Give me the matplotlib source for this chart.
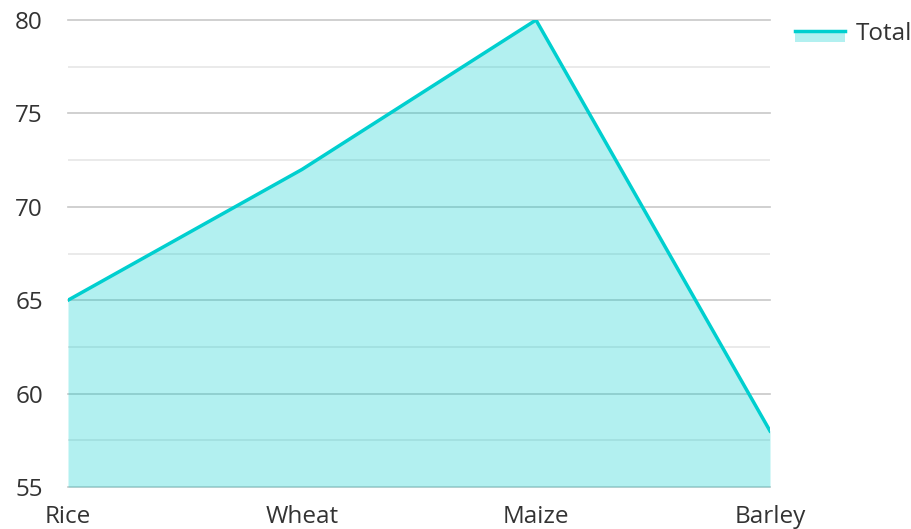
import matplotlib
matplotlib.use("Agg")
import matplotlib.pyplot as plt
from matplotlib.patches import Patch, Rectangle
from matplotlib.lines import Line2D
from matplotlib.legend_handler import HandlerBase
from matplotlib.ticker import MultipleLocator

plt.rcParams["font.family"] = ["Open Sans", "DejaVu Sans"]

crops = ["Rice", "Wheat", "Maize", "Barley"]
total = [65, 72, 80, 58]

line_color = "#00CFCF"


class AreaHandler(HandlerBase):
    # line on top of a short filled strip, like the reference legend
    def create_artists(self, legend, orig_handle, xdescent, ydescent,
                       width, height, fontsize, trans):
        mid = -ydescent + height / 2
        rect = Rectangle((-xdescent, mid - 0.62 * height), width, 0.62 * height,
                         facecolor=line_color, alpha=0.3, edgecolor="none",
                         transform=trans)
        line = Line2D([-xdescent, -xdescent + width], [mid, mid],
                      color=line_color, linewidth=2.5, transform=trans)
        return [rect, line]


fig = plt.figure(figsize=(9.11, 5.29), dpi=100)
ax = fig.add_axes([68/911, 1 - 487/529, (770-68)/911, (487-20)/529])

x = list(range(len(crops)))
ax.fill_between(x, total, 55, color=line_color, alpha=0.3, linewidth=0, zorder=2)
ax.plot(x, total, color=line_color, linewidth=2.5, zorder=3)

ax.set_xlim(0, len(crops) - 1)
ax.set_ylim(55, 80)
ax.set_xticks(x)
ax.set_xticklabels(crops)
ax.yaxis.set_major_locator(MultipleLocator(5))
ax.yaxis.set_minor_locator(MultipleLocator(2.5))
ax.grid(axis="y", which="major", color="#c8c8c8", linewidth=1.2, zorder=1)
ax.grid(axis="y", which="minor", color="#e6e6e6", linewidth=1.2, zorder=1)
ax.set_axisbelow(True)
for gl in ax.get_ygridlines():
    gl.set_clip_on(False)
ax.tick_params(axis="both", which="both", length=0, labelsize=17.5, colors="#333333")
ax.tick_params(axis="y", pad=18)
ax.tick_params(axis="x", pad=13)
for s in ax.spines.values():
    s.set_visible(False)

ax.legend([Patch()], ["Total"], handler_map={Patch: AreaHandler()},
          loc="upper left", bbox_to_anchor=(795/911, 1 - 22/529),
          bbox_transform=fig.transFigure, frameon=False, borderpad=0,
          borderaxespad=0, fontsize=17.5, labelcolor="#333333",
          handlelength=2.05, handletextpad=0.45)

fig.savefig("out.png", dpi=100)
